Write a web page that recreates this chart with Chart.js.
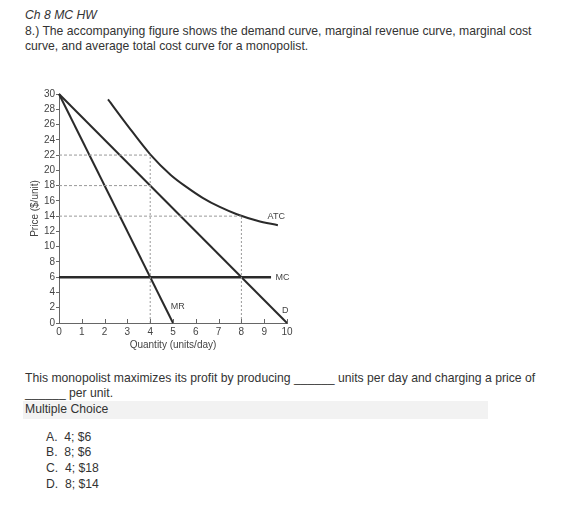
<!DOCTYPE html>
<html>
<head>
<meta charset="utf-8">
<script src="https://cdn.jsdelivr.net/npm/chart.js@4"></script>
<style>
  body { margin: 0; background: #fff; font-family: "Liberation Sans", Arial, sans-serif; color: #333; font-size: 12.2px; }
  .txt { position: absolute; left: 25px; white-space: nowrap; line-height: 15px; }
  #chartBox { position: absolute; left: 20px; top: 80px; width: 280px; height: 280px; }
  .band { position: absolute; left: 23px; top: 401px; width: 465px; height: 18px; background: #f2f2f2; }
  .opt { position: absolute; left: 46px; line-height: 15px; }
</style>
</head>
<body>
<div class="txt" style="top:8px;font-style:italic">Ch 8 MC HW</div>
<div class="txt" style="top:24px">8.) The accompanying figure shows the demand curve, marginal revenue curve, marginal cost</div>
<div class="txt" style="top:39px">curve, and average total cost curve for a monopolist.</div>

<div id="chartBox"><canvas id="monoChart" width="280" height="280"></canvas></div>

<div class="txt" style="top:371px">This monopolist maximizes its profit by producing ______ units per day and charging a price of</div>
<div class="txt" style="top:386px">______ per unit.</div>
<div class="band"></div>
<div class="txt" style="top:402px">Multiple Choice</div>
<div class="opt" style="top:430px">A.&nbsp; 4; $6</div>
<div class="opt" style="top:445px">B.&nbsp; 8; $6</div>
<div class="opt" style="top:461px">C.&nbsp; 4; $18</div>
<div class="opt" style="top:477px">D.&nbsp; 8; $14</div>

<script>
// curve data (quantity, price)
const demandQ = [0, 10];
const demandP = [30, 0];
const mrQ = [0, 5];
const mrP = [30, 0];
const mcQ = [0, 9.3];
const mcP = [6, 6];
const atcQ = [2.15, 3, 4, 4.9, 5.6, 6.3, 7.05, 7.8, 8.7, 9.6];
const atcP = [29.3, 25.9, 22.1, 19.4, 17.8, 16.4, 15.2, 14.25, 13.4, 12.8];

// dotted guide lines: [q, p] corners
const guideQ = [4, 4, 8];
const guideP = [22, 18, 14];

// curve labels
const labelText = ['ATC', 'MC', 'MR', 'D'];
const labelQ = [9.15, 9.5, 4.9, 9.78];
const labelP = [14.0, 5.9, 2.2, 1.65];

const xTicks = [0, 1, 2, 3, 4, 5, 6, 7, 8, 9, 10];
const yTicks = [0, 2, 4, 6, 8, 10, 12, 14, 16, 18, 20, 22, 24, 26, 28, 30];

function pts(qs, ps) {
  return qs.map((q, i) => ({ x: q, y: ps[i] }));
}

const lineColor = '#2a2a2a';
const guideColor = '#999';
const textColor = '#444';
const fontFam = '"Liberation Sans", Arial, sans-serif';

const datasets = [];
// guides first so curves sit on top
guideQ.forEach((q, i) => {
  datasets.push({ data: pts([0, q], [guideP[i], guideP[i]]), borderColor: guideColor, borderWidth: 1, borderDash: [3, 2], pointRadius: 0 });
});
[4, 8].forEach((q) => {
  const top = Math.max(...guideP.filter((p, i) => guideQ[i] === q));
  datasets.push({ data: pts([q, q], [0, top]), borderColor: guideColor, borderWidth: 1, borderDash: [2, 2], pointRadius: 0 });
});
datasets.push({ label: 'D', data: pts(demandQ, demandP), borderColor: lineColor, borderWidth: 2, pointRadius: 0 });
datasets.push({ label: 'MR', data: pts(mrQ, mrP), borderColor: lineColor, borderWidth: 2, pointRadius: 0 });
datasets.push({ label: 'MC', data: pts(mcQ, mcP), borderColor: lineColor, borderWidth: 2.5, pointRadius: 0 });
datasets.push({ label: 'ATC', data: pts(atcQ, atcP), borderColor: lineColor, borderWidth: 2, pointRadius: 0, cubicInterpolationMode: 'monotone' });

// curve names + the small inward tick marks on the quantity axis
const curveLabels = {
  id: 'curveLabels',
  afterDatasetsDraw(chart) {
    const ctx = chart.ctx;
    const xs = chart.scales.x, ys = chart.scales.y;
    ctx.save();
    ctx.strokeStyle = '#666';
    ctx.lineWidth = 1;
    const base = ys.getPixelForValue(0);
    xTicks.forEach((v) => {
      const px = Math.round(xs.getPixelForValue(v)) + 0.5;
      ctx.beginPath();
      ctx.moveTo(px, base);
      ctx.lineTo(px, base - 4);
      ctx.stroke();
    });
    ctx.font = '9px ' + fontFam;
    ctx.fillStyle = textColor;
    ctx.textBaseline = 'middle';
    ctx.textAlign = 'left';
    labelText.forEach((t, i) => {
      ctx.fillText(t, xs.getPixelForValue(labelQ[i]), ys.getPixelForValue(labelP[i]));
    });
    ctx.restore();
  }
};

const ctx = document.getElementById('monoChart').getContext('2d');
new Chart(ctx, {
  type: 'line',
  data: { datasets: datasets },
  plugins: [curveLabels],
  options: {
    responsive: false,
    animation: false,
    clip: false,
    layout: { padding: { top: 14, right: 13, left: 9, bottom: 9 } },
    plugins: { legend: { display: false }, tooltip: { enabled: false } },
    scales: {
      x: {
        type: 'linear', min: 0, max: 10,
        afterBuildTicks: (s) => { s.ticks = xTicks.map(v => ({ value: v })); },
        afterFit: (s) => { s.height = 28; },
        border: { color: '#666', width: 1 },
        grid: { drawOnChartArea: false, drawTicks: false },
        ticks: { color: textColor, font: { size: 10, family: fontFam }, padding: 3, maxRotation: 0 },
        title: { display: true, text: 'Quantity (units/day)', color: textColor, font: { size: 10, family: fontFam }, padding: 0 }
      },
      y: {
        type: 'linear', min: 0, max: 30,
        afterBuildTicks: (s) => { s.ticks = yTicks.map(v => ({ value: v })); },
        afterFit: (s) => { s.width = 30; },
        border: { color: '#666', width: 1 },
        grid: { drawOnChartArea: false, tickLength: 3, color: '#666' },
        ticks: { color: textColor, font: { size: 10, family: fontFam }, padding: 1 },
        title: { display: true, text: 'Price ($/unit)', color: textColor, font: { size: 10, family: fontFam }, padding: 0 }
      }
    }
  }
});
</script>
</body>
</html>
